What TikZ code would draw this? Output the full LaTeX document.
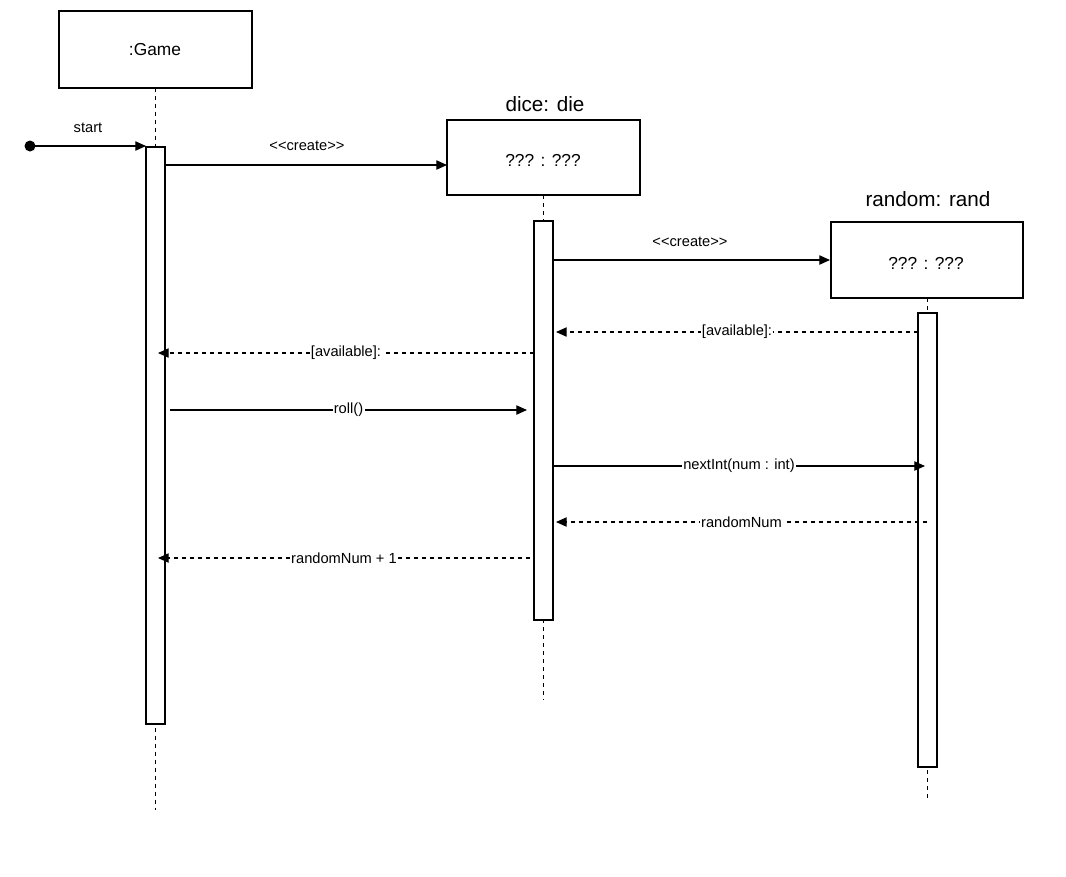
\documentclass[tikz,border=0pt]{standalone}
\usepackage{fontspec}
\setmainfont{Liberation Sans}
\usetikzlibrary{arrows.meta}
\begin{document}
\begin{tikzpicture}[x=0.75pt,y=-0.75pt,
  box/.style={draw,line width=1pt,inner sep=0},
  act/.style={draw,fill=white,line width=0.8pt},
  life/.style={dashed,line width=0.6pt},
  msg/.style={-{Triangle[length=8pt,width=7pt]},line width=0.8pt},
  ret/.style={msg,dashed},
  lbl/.style={fill=white,inner sep=1pt,font=\fontsize{11}{13}\selectfont},
  ttl/.style={font=\fontsize{15.5}{18}\selectfont}]
\useasboundingbox (0,0) rectangle (1066,876);
% lifelines
\draw[life] (155,88) -- (155,810);
\draw[life] (543,195) -- (543,700);
\draw[life] (927,298) -- (927,800);
% boxes
\draw[box] (59,11) rectangle (252,88);
\node[font=\fontsize{13}{15}\selectfont] (game) at (155,50) {:Game};
\draw[box] (447,120) rectangle (640,195);
\node[font=\fontsize{13}{15}\selectfont] (dice) at (543,160) {??? : ???};
\node[ttl] (dicet) at (545,104) {dice: die};
\draw[box] (831,222) rectangle (1023,298);
\node[font=\fontsize{13}{15}\selectfont] (rand) at (926,263) {??? : ???};
\node[ttl] (randt) at (928,199) {random: rand};
% activations
\draw[act] (146,147) rectangle (165,724);
\draw[act] (534,221) rectangle (553,620);
\draw[act] (918,313) rectangle (937,767);
% coordinates
\coordinate (s0) at (30,146); \coordinate (s1) at (146,146);
\coordinate (c1a) at (165,165); \coordinate (c1b) at (447,165);
\coordinate (c2a) at (553,260); \coordinate (c2b) at (830,260);
\coordinate (a1a) at (918,332); \coordinate (a1b) at (556,332);
\coordinate (a2a) at (534,353); \coordinate (a2b) at (158,353);
\coordinate (r1a) at (170,410); \coordinate (r1b) at (527,410);
\coordinate (n1a) at (553,466); \coordinate (n1b) at (925,466);
\coordinate (rn1a) at (927,522); \coordinate (rn1b) at (556,522);
\coordinate (rn2a) at (530,558); \coordinate (rn2b) at (158,558);
\fill (s0) circle (5.5);
\draw[msg] (s0) -- (s1);
\node[lbl] (lstart) at (88,128) {start};
\draw[msg] (c1a) -- (c1b);
\node[lbl] (lc1) at (307,146) {<{}<create>{}>};
\draw[msg] (c2a) -- (c2b);
\node[lbl] (lc2) at (690,242) {<{}<create>{}>};
\draw[ret] (a1a) -- node[lbl,pos=0.5] (la1) {[available]:} (a1b);
\draw[ret] (a2a) -- node[lbl,pos=0.5] (la2) {[available]:} (a2b);
\draw[msg] (r1a) -- node[lbl,pos=0.5] (lr1) {roll()} (r1b);
\draw[msg] (n1a) -- node[lbl,pos=0.5] (ln1) {nextInt(num : int)} (n1b);
\draw[ret] (rn1a) -- node[lbl,pos=0.5] (lrn1) {randomNum} (rn1b);
\draw[ret] (rn2a) -- node[lbl,pos=0.5] (lrn2) {randomNum + 1} (rn2b);
\end{tikzpicture}
\end{document}
